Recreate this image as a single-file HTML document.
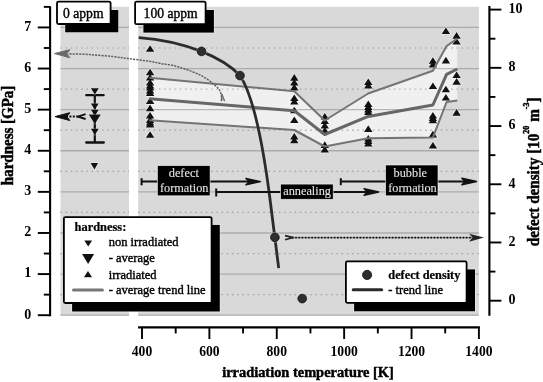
<!DOCTYPE html><html><head><meta charset="utf-8"><style>html,body{margin:0;padding:0;background:#fff;}svg{display:block;}text{font-family:"Liberation Serif",serif;} .r{stroke:#000;stroke-width:0.38px;} .b{stroke:#000;stroke-width:0.22px;} .t{stroke:#000;stroke-width:0.45px;} .w{fill:#e2e2e2;stroke:#e2e2e2;stroke-width:0.12px;}</style></head><body>
<svg width="543" height="382" viewBox="0 0 543 382">
<rect x="0" y="0" width="543" height="382" fill="#fff"/>
<rect x="60.5" y="6.8" width="68.5" height="308.59999999999997" fill="#d9d9d9"/>
<rect x="138.2" y="6.8" width="340.7" height="308.59999999999997" fill="#d9d9d9"/>
<line x1="60.5" y1="315.20" x2="129" y2="315.20" stroke="#ababab" stroke-width="1.3"/>
<line x1="60.5" y1="274.09" x2="129" y2="274.09" stroke="#ababab" stroke-width="1.3"/>
<line x1="60.5" y1="232.98" x2="129" y2="232.98" stroke="#ababab" stroke-width="1.3"/>
<line x1="60.5" y1="191.87" x2="129" y2="191.87" stroke="#ababab" stroke-width="1.3"/>
<line x1="60.5" y1="150.76" x2="129" y2="150.76" stroke="#ababab" stroke-width="1.3"/>
<line x1="60.5" y1="109.65" x2="129" y2="109.65" stroke="#ababab" stroke-width="1.3"/>
<line x1="60.5" y1="68.54" x2="129" y2="68.54" stroke="#ababab" stroke-width="1.3"/>
<line x1="60.5" y1="27.43" x2="129" y2="27.43" stroke="#ababab" stroke-width="1.3"/>
<line x1="60.3" y1="294.64" x2="129" y2="294.64" stroke="#a2a2a2" stroke-width="1.2" stroke-dasharray="1.5 3.72"/>
<line x1="60.3" y1="253.53" x2="129" y2="253.53" stroke="#a2a2a2" stroke-width="1.2" stroke-dasharray="1.5 3.72"/>
<line x1="60.3" y1="212.42" x2="129" y2="212.42" stroke="#a2a2a2" stroke-width="1.2" stroke-dasharray="1.5 3.72"/>
<line x1="60.3" y1="171.31" x2="129" y2="171.31" stroke="#a2a2a2" stroke-width="1.2" stroke-dasharray="1.5 3.72"/>
<line x1="60.3" y1="130.20" x2="129" y2="130.20" stroke="#a2a2a2" stroke-width="1.2" stroke-dasharray="1.5 3.72"/>
<line x1="60.3" y1="89.09" x2="129" y2="89.09" stroke="#a2a2a2" stroke-width="1.2" stroke-dasharray="1.5 3.72"/>
<line x1="60.3" y1="47.99" x2="129" y2="47.99" stroke="#a2a2a2" stroke-width="1.2" stroke-dasharray="1.5 3.72"/>
<line x1="138.2" y1="315.20" x2="478.9" y2="315.20" stroke="#ababab" stroke-width="1.3"/>
<line x1="138.2" y1="274.09" x2="478.9" y2="274.09" stroke="#ababab" stroke-width="1.3"/>
<line x1="138.2" y1="232.98" x2="478.9" y2="232.98" stroke="#ababab" stroke-width="1.3"/>
<line x1="138.2" y1="191.87" x2="478.9" y2="191.87" stroke="#ababab" stroke-width="1.3"/>
<line x1="138.2" y1="150.76" x2="478.9" y2="150.76" stroke="#ababab" stroke-width="1.3"/>
<line x1="138.2" y1="109.65" x2="478.9" y2="109.65" stroke="#ababab" stroke-width="1.3"/>
<line x1="138.2" y1="68.54" x2="478.9" y2="68.54" stroke="#ababab" stroke-width="1.3"/>
<line x1="138.2" y1="27.43" x2="478.9" y2="27.43" stroke="#ababab" stroke-width="1.3"/>
<line x1="138.0" y1="294.64" x2="478.9" y2="294.64" stroke="#a2a2a2" stroke-width="1.2" stroke-dasharray="1.5 3.72"/>
<line x1="138.0" y1="253.53" x2="478.9" y2="253.53" stroke="#a2a2a2" stroke-width="1.2" stroke-dasharray="1.5 3.72"/>
<line x1="138.0" y1="212.42" x2="478.9" y2="212.42" stroke="#a2a2a2" stroke-width="1.2" stroke-dasharray="1.5 3.72"/>
<line x1="138.0" y1="171.31" x2="478.9" y2="171.31" stroke="#a2a2a2" stroke-width="1.2" stroke-dasharray="1.5 3.72"/>
<line x1="138.0" y1="130.20" x2="478.9" y2="130.20" stroke="#a2a2a2" stroke-width="1.2" stroke-dasharray="1.5 3.72"/>
<line x1="138.0" y1="89.09" x2="478.9" y2="89.09" stroke="#a2a2a2" stroke-width="1.2" stroke-dasharray="1.5 3.72"/>
<line x1="138.0" y1="47.99" x2="478.9" y2="47.99" stroke="#a2a2a2" stroke-width="1.2" stroke-dasharray="1.5 3.72"/>
<polygon points="149.4,77.7 294.3,91.3 324.7,120.5 368.2,93.5 432.9,70.8 446.6,46.0 457.3,38.7 457.3,100.6 446.6,102.0 432.9,137.4 368.2,138.2 324.7,146.5 294.3,130.0 149.4,120.2" fill="#f0f0f0"/>
<clipPath id="bandclip"><polygon points="149.4,77.7 294.3,91.3 324.7,120.5 368.2,93.5 432.9,70.8 446.6,46.0 457.3,38.7 457.3,100.6 446.6,102.0 432.9,137.4 368.2,138.2 324.7,146.5 294.3,130.0 149.4,120.2"/></clipPath>
<g clip-path="url(#bandclip)">
<line x1="138.2" y1="315.20" x2="478.9" y2="315.20" stroke="#b6b6b6" stroke-width="1.3"/>
<line x1="138.2" y1="274.09" x2="478.9" y2="274.09" stroke="#b6b6b6" stroke-width="1.3"/>
<line x1="138.2" y1="232.98" x2="478.9" y2="232.98" stroke="#b6b6b6" stroke-width="1.3"/>
<line x1="138.2" y1="191.87" x2="478.9" y2="191.87" stroke="#b6b6b6" stroke-width="1.3"/>
<line x1="138.2" y1="150.76" x2="478.9" y2="150.76" stroke="#b6b6b6" stroke-width="1.3"/>
<line x1="138.2" y1="109.65" x2="478.9" y2="109.65" stroke="#b6b6b6" stroke-width="1.3"/>
<line x1="138.2" y1="68.54" x2="478.9" y2="68.54" stroke="#b6b6b6" stroke-width="1.3"/>
<line x1="138.2" y1="27.43" x2="478.9" y2="27.43" stroke="#b6b6b6" stroke-width="1.3"/>
<line x1="138.0" y1="294.64" x2="478.9" y2="294.64" stroke="#b4b4b4" stroke-width="1.4" stroke-dasharray="1.6 3.62"/>
<line x1="138.0" y1="253.53" x2="478.9" y2="253.53" stroke="#b4b4b4" stroke-width="1.4" stroke-dasharray="1.6 3.62"/>
<line x1="138.0" y1="212.42" x2="478.9" y2="212.42" stroke="#b4b4b4" stroke-width="1.4" stroke-dasharray="1.6 3.62"/>
<line x1="138.0" y1="171.31" x2="478.9" y2="171.31" stroke="#b4b4b4" stroke-width="1.4" stroke-dasharray="1.6 3.62"/>
<line x1="138.0" y1="130.20" x2="478.9" y2="130.20" stroke="#b4b4b4" stroke-width="1.4" stroke-dasharray="1.6 3.62"/>
<line x1="138.0" y1="89.09" x2="478.9" y2="89.09" stroke="#b4b4b4" stroke-width="1.4" stroke-dasharray="1.6 3.62"/>
<line x1="138.0" y1="47.99" x2="478.9" y2="47.99" stroke="#b4b4b4" stroke-width="1.4" stroke-dasharray="1.6 3.62"/>
</g>
<polygon points="150.1,45.2 145.9,51.800000000000004 154.29999999999998,51.800000000000004" fill="none" stroke="#fff" stroke-width="1.6" stroke-opacity="0.45" stroke-linejoin="round"/>
<polygon points="150.1,68.7 145.9,75.3 154.29999999999998,75.3" fill="none" stroke="#fff" stroke-width="1.6" stroke-opacity="0.45" stroke-linejoin="round"/>
<polygon points="150.1,74.0 145.9,80.6 154.29999999999998,80.6" fill="none" stroke="#fff" stroke-width="1.6" stroke-opacity="0.45" stroke-linejoin="round"/>
<polygon points="150.1,79.0 145.9,85.6 154.29999999999998,85.6" fill="none" stroke="#fff" stroke-width="1.6" stroke-opacity="0.45" stroke-linejoin="round"/>
<polygon points="150.1,82.0 145.9,88.6 154.29999999999998,88.6" fill="none" stroke="#fff" stroke-width="1.6" stroke-opacity="0.45" stroke-linejoin="round"/>
<polygon points="150.1,84.0 145.9,90.6 154.29999999999998,90.6" fill="none" stroke="#fff" stroke-width="1.6" stroke-opacity="0.45" stroke-linejoin="round"/>
<polygon points="150.1,87.0 145.9,93.6 154.29999999999998,93.6" fill="none" stroke="#fff" stroke-width="1.6" stroke-opacity="0.45" stroke-linejoin="round"/>
<polygon points="150.1,89.3 145.9,95.89999999999999 154.29999999999998,95.89999999999999" fill="none" stroke="#fff" stroke-width="1.6" stroke-opacity="0.45" stroke-linejoin="round"/>
<polygon points="150.1,97.3 145.9,103.89999999999999 154.29999999999998,103.89999999999999" fill="none" stroke="#fff" stroke-width="1.6" stroke-opacity="0.45" stroke-linejoin="round"/>
<polygon points="150.1,104.6 145.9,111.19999999999999 154.29999999999998,111.19999999999999" fill="none" stroke="#fff" stroke-width="1.6" stroke-opacity="0.45" stroke-linejoin="round"/>
<polygon points="150.1,112.0 145.9,118.6 154.29999999999998,118.6" fill="none" stroke="#fff" stroke-width="1.6" stroke-opacity="0.45" stroke-linejoin="round"/>
<polygon points="150.1,116.3 145.9,122.89999999999999 154.29999999999998,122.89999999999999" fill="none" stroke="#fff" stroke-width="1.6" stroke-opacity="0.45" stroke-linejoin="round"/>
<polygon points="150.1,119.0 145.9,125.6 154.29999999999998,125.6" fill="none" stroke="#fff" stroke-width="1.6" stroke-opacity="0.45" stroke-linejoin="round"/>
<polygon points="150.1,120.8 145.9,127.39999999999999 154.29999999999998,127.39999999999999" fill="none" stroke="#fff" stroke-width="1.6" stroke-opacity="0.45" stroke-linejoin="round"/>
<polygon points="150.1,131.2 145.9,137.79999999999998 154.29999999999998,137.79999999999998" fill="none" stroke="#fff" stroke-width="1.6" stroke-opacity="0.45" stroke-linejoin="round"/>
<polygon points="294.3,74.1 290.1,80.69999999999999 298.5,80.69999999999999" fill="none" stroke="#fff" stroke-width="1.6" stroke-opacity="0.45" stroke-linejoin="round"/>
<polygon points="294.3,79.0 290.1,85.6 298.5,85.6" fill="none" stroke="#fff" stroke-width="1.6" stroke-opacity="0.45" stroke-linejoin="round"/>
<polygon points="294.3,83.8 290.1,90.39999999999999 298.5,90.39999999999999" fill="none" stroke="#fff" stroke-width="1.6" stroke-opacity="0.45" stroke-linejoin="round"/>
<polygon points="294.3,94.5 290.1,101.1 298.5,101.1" fill="none" stroke="#fff" stroke-width="1.6" stroke-opacity="0.45" stroke-linejoin="round"/>
<polygon points="294.3,98.0 290.1,104.6 298.5,104.6" fill="none" stroke="#fff" stroke-width="1.6" stroke-opacity="0.45" stroke-linejoin="round"/>
<polygon points="294.3,106.7 290.1,113.3 298.5,113.3" fill="none" stroke="#fff" stroke-width="1.6" stroke-opacity="0.45" stroke-linejoin="round"/>
<polygon points="294.3,116.5 290.1,123.1 298.5,123.1" fill="none" stroke="#fff" stroke-width="1.6" stroke-opacity="0.45" stroke-linejoin="round"/>
<polygon points="294.3,133.0 290.1,139.6 298.5,139.6" fill="none" stroke="#fff" stroke-width="1.6" stroke-opacity="0.45" stroke-linejoin="round"/>
<polygon points="294.3,136.7 290.1,143.29999999999998 298.5,143.29999999999998" fill="none" stroke="#fff" stroke-width="1.6" stroke-opacity="0.45" stroke-linejoin="round"/>
<polygon points="324.8,113.0 320.6,119.6 329.0,119.6" fill="none" stroke="#fff" stroke-width="1.6" stroke-opacity="0.45" stroke-linejoin="round"/>
<polygon points="324.8,117.5 320.6,124.1 329.0,124.1" fill="none" stroke="#fff" stroke-width="1.6" stroke-opacity="0.45" stroke-linejoin="round"/>
<polygon points="324.8,122.0 320.6,128.6 329.0,128.6" fill="none" stroke="#fff" stroke-width="1.6" stroke-opacity="0.45" stroke-linejoin="round"/>
<polygon points="324.8,127.0 320.6,133.6 329.0,133.6" fill="none" stroke="#fff" stroke-width="1.6" stroke-opacity="0.45" stroke-linejoin="round"/>
<polygon points="324.8,141.3 320.6,147.9 329.0,147.9" fill="none" stroke="#fff" stroke-width="1.6" stroke-opacity="0.45" stroke-linejoin="round"/>
<polygon points="324.8,146.0 320.6,152.6 329.0,152.6" fill="none" stroke="#fff" stroke-width="1.6" stroke-opacity="0.45" stroke-linejoin="round"/>
<polygon points="368.3,78.4 364.1,85.0 372.5,85.0" fill="none" stroke="#fff" stroke-width="1.6" stroke-opacity="0.45" stroke-linejoin="round"/>
<polygon points="368.3,82.0 364.1,88.6 372.5,88.6" fill="none" stroke="#fff" stroke-width="1.6" stroke-opacity="0.45" stroke-linejoin="round"/>
<polygon points="368.3,100.5 364.1,107.1 372.5,107.1" fill="none" stroke="#fff" stroke-width="1.6" stroke-opacity="0.45" stroke-linejoin="round"/>
<polygon points="368.3,103.3 364.1,109.89999999999999 372.5,109.89999999999999" fill="none" stroke="#fff" stroke-width="1.6" stroke-opacity="0.45" stroke-linejoin="round"/>
<polygon points="368.3,106.0 364.1,112.6 372.5,112.6" fill="none" stroke="#fff" stroke-width="1.6" stroke-opacity="0.45" stroke-linejoin="round"/>
<polygon points="368.3,108.3 364.1,114.89999999999999 372.5,114.89999999999999" fill="none" stroke="#fff" stroke-width="1.6" stroke-opacity="0.45" stroke-linejoin="round"/>
<polygon points="368.3,125.3 364.1,131.9 372.5,131.9" fill="none" stroke="#fff" stroke-width="1.6" stroke-opacity="0.45" stroke-linejoin="round"/>
<polygon points="368.3,134.9 364.1,141.5 372.5,141.5" fill="none" stroke="#fff" stroke-width="1.6" stroke-opacity="0.45" stroke-linejoin="round"/>
<polygon points="368.3,137.5 364.1,144.1 372.5,144.1" fill="none" stroke="#fff" stroke-width="1.6" stroke-opacity="0.45" stroke-linejoin="round"/>
<polygon points="368.3,139.8 364.1,146.4 372.5,146.4" fill="none" stroke="#fff" stroke-width="1.6" stroke-opacity="0.45" stroke-linejoin="round"/>
<polygon points="432.9,57.2 428.7,63.800000000000004 437.09999999999997,63.800000000000004" fill="none" stroke="#fff" stroke-width="1.6" stroke-opacity="0.45" stroke-linejoin="round"/>
<polygon points="432.9,61.0 428.7,67.6 437.09999999999997,67.6" fill="none" stroke="#fff" stroke-width="1.6" stroke-opacity="0.45" stroke-linejoin="round"/>
<polygon points="432.9,82.5 428.7,89.1 437.09999999999997,89.1" fill="none" stroke="#fff" stroke-width="1.6" stroke-opacity="0.45" stroke-linejoin="round"/>
<polygon points="432.9,111.9 428.7,118.5 437.09999999999997,118.5" fill="none" stroke="#fff" stroke-width="1.6" stroke-opacity="0.45" stroke-linejoin="round"/>
<polygon points="432.9,114.5 428.7,121.1 437.09999999999997,121.1" fill="none" stroke="#fff" stroke-width="1.6" stroke-opacity="0.45" stroke-linejoin="round"/>
<polygon points="432.9,116.7 428.7,123.3 437.09999999999997,123.3" fill="none" stroke="#fff" stroke-width="1.6" stroke-opacity="0.45" stroke-linejoin="round"/>
<polygon points="432.9,130.8 428.7,137.4 437.09999999999997,137.4" fill="none" stroke="#fff" stroke-width="1.6" stroke-opacity="0.45" stroke-linejoin="round"/>
<polygon points="432.9,142.0 428.7,148.6 437.09999999999997,148.6" fill="none" stroke="#fff" stroke-width="1.6" stroke-opacity="0.45" stroke-linejoin="round"/>
<polygon points="445.9,27.4 441.7,34.0 450.09999999999997,34.0" fill="none" stroke="#fff" stroke-width="1.6" stroke-opacity="0.45" stroke-linejoin="round"/>
<polygon points="445.9,56.8 441.7,63.4 450.09999999999997,63.4" fill="none" stroke="#fff" stroke-width="1.6" stroke-opacity="0.45" stroke-linejoin="round"/>
<polygon points="445.9,85.7 441.7,92.3 450.09999999999997,92.3" fill="none" stroke="#fff" stroke-width="1.6" stroke-opacity="0.45" stroke-linejoin="round"/>
<polygon points="445.9,94.0 441.7,100.6 450.09999999999997,100.6" fill="none" stroke="#fff" stroke-width="1.6" stroke-opacity="0.45" stroke-linejoin="round"/>
<polygon points="456.6,32.1 452.40000000000003,38.7 460.8,38.7" fill="none" stroke="#fff" stroke-width="1.6" stroke-opacity="0.45" stroke-linejoin="round"/>
<polygon points="456.6,38.0 452.40000000000003,44.6 460.8,44.6" fill="none" stroke="#fff" stroke-width="1.6" stroke-opacity="0.45" stroke-linejoin="round"/>
<polygon points="456.6,71.4 452.40000000000003,78.0 460.8,78.0" fill="none" stroke="#fff" stroke-width="1.6" stroke-opacity="0.45" stroke-linejoin="round"/>
<polygon points="456.6,78.1 452.40000000000003,84.69999999999999 460.8,84.69999999999999" fill="none" stroke="#fff" stroke-width="1.6" stroke-opacity="0.45" stroke-linejoin="round"/>
<polygon points="456.6,109.1 452.40000000000003,115.69999999999999 460.8,115.69999999999999" fill="none" stroke="#fff" stroke-width="1.6" stroke-opacity="0.45" stroke-linejoin="round"/>
<polygon points="150.1,45.2 145.9,51.800000000000004 154.29999999999998,51.800000000000004" fill="#111"/>
<polygon points="150.1,68.7 145.9,75.3 154.29999999999998,75.3" fill="#111"/>
<polygon points="150.1,74.0 145.9,80.6 154.29999999999998,80.6" fill="#111"/>
<polygon points="150.1,79.0 145.9,85.6 154.29999999999998,85.6" fill="#111"/>
<polygon points="150.1,82.0 145.9,88.6 154.29999999999998,88.6" fill="#111"/>
<polygon points="150.1,84.0 145.9,90.6 154.29999999999998,90.6" fill="#111"/>
<polygon points="150.1,87.0 145.9,93.6 154.29999999999998,93.6" fill="#111"/>
<polygon points="150.1,89.3 145.9,95.89999999999999 154.29999999999998,95.89999999999999" fill="#111"/>
<polygon points="150.1,97.3 145.9,103.89999999999999 154.29999999999998,103.89999999999999" fill="#111"/>
<polygon points="150.1,104.6 145.9,111.19999999999999 154.29999999999998,111.19999999999999" fill="#111"/>
<polygon points="150.1,112.0 145.9,118.6 154.29999999999998,118.6" fill="#111"/>
<polygon points="150.1,116.3 145.9,122.89999999999999 154.29999999999998,122.89999999999999" fill="#111"/>
<polygon points="150.1,119.0 145.9,125.6 154.29999999999998,125.6" fill="#111"/>
<polygon points="150.1,120.8 145.9,127.39999999999999 154.29999999999998,127.39999999999999" fill="#111"/>
<polygon points="150.1,131.2 145.9,137.79999999999998 154.29999999999998,137.79999999999998" fill="#111"/>
<polygon points="294.3,74.1 290.1,80.69999999999999 298.5,80.69999999999999" fill="#111"/>
<polygon points="294.3,79.0 290.1,85.6 298.5,85.6" fill="#111"/>
<polygon points="294.3,83.8 290.1,90.39999999999999 298.5,90.39999999999999" fill="#111"/>
<polygon points="294.3,94.5 290.1,101.1 298.5,101.1" fill="#111"/>
<polygon points="294.3,98.0 290.1,104.6 298.5,104.6" fill="#111"/>
<polygon points="294.3,106.7 290.1,113.3 298.5,113.3" fill="#111"/>
<polygon points="294.3,116.5 290.1,123.1 298.5,123.1" fill="#111"/>
<polygon points="294.3,133.0 290.1,139.6 298.5,139.6" fill="#111"/>
<polygon points="294.3,136.7 290.1,143.29999999999998 298.5,143.29999999999998" fill="#111"/>
<polygon points="324.8,113.0 320.6,119.6 329.0,119.6" fill="#111"/>
<polygon points="324.8,117.5 320.6,124.1 329.0,124.1" fill="#111"/>
<polygon points="324.8,122.0 320.6,128.6 329.0,128.6" fill="#111"/>
<polygon points="324.8,127.0 320.6,133.6 329.0,133.6" fill="#111"/>
<polygon points="324.8,141.3 320.6,147.9 329.0,147.9" fill="#111"/>
<polygon points="324.8,146.0 320.6,152.6 329.0,152.6" fill="#111"/>
<polygon points="368.3,78.4 364.1,85.0 372.5,85.0" fill="#111"/>
<polygon points="368.3,82.0 364.1,88.6 372.5,88.6" fill="#111"/>
<polygon points="368.3,100.5 364.1,107.1 372.5,107.1" fill="#111"/>
<polygon points="368.3,103.3 364.1,109.89999999999999 372.5,109.89999999999999" fill="#111"/>
<polygon points="368.3,106.0 364.1,112.6 372.5,112.6" fill="#111"/>
<polygon points="368.3,108.3 364.1,114.89999999999999 372.5,114.89999999999999" fill="#111"/>
<polygon points="368.3,125.3 364.1,131.9 372.5,131.9" fill="#111"/>
<polygon points="368.3,134.9 364.1,141.5 372.5,141.5" fill="#111"/>
<polygon points="368.3,137.5 364.1,144.1 372.5,144.1" fill="#111"/>
<polygon points="368.3,139.8 364.1,146.4 372.5,146.4" fill="#111"/>
<polygon points="432.9,57.2 428.7,63.800000000000004 437.09999999999997,63.800000000000004" fill="#111"/>
<polygon points="432.9,61.0 428.7,67.6 437.09999999999997,67.6" fill="#111"/>
<polygon points="432.9,82.5 428.7,89.1 437.09999999999997,89.1" fill="#111"/>
<polygon points="432.9,111.9 428.7,118.5 437.09999999999997,118.5" fill="#111"/>
<polygon points="432.9,114.5 428.7,121.1 437.09999999999997,121.1" fill="#111"/>
<polygon points="432.9,116.7 428.7,123.3 437.09999999999997,123.3" fill="#111"/>
<polygon points="432.9,130.8 428.7,137.4 437.09999999999997,137.4" fill="#111"/>
<polygon points="432.9,142.0 428.7,148.6 437.09999999999997,148.6" fill="#111"/>
<polygon points="445.9,27.4 441.7,34.0 450.09999999999997,34.0" fill="#111"/>
<polygon points="445.9,56.8 441.7,63.4 450.09999999999997,63.4" fill="#111"/>
<polygon points="445.9,85.7 441.7,92.3 450.09999999999997,92.3" fill="#111"/>
<polygon points="445.9,94.0 441.7,100.6 450.09999999999997,100.6" fill="#111"/>
<polygon points="456.6,32.1 452.40000000000003,38.7 460.8,38.7" fill="#111"/>
<polygon points="456.6,38.0 452.40000000000003,44.6 460.8,44.6" fill="#111"/>
<polygon points="456.6,71.4 452.40000000000003,78.0 460.8,78.0" fill="#111"/>
<polygon points="456.6,78.1 452.40000000000003,84.69999999999999 460.8,84.69999999999999" fill="#111"/>
<polygon points="456.6,109.1 452.40000000000003,115.69999999999999 460.8,115.69999999999999" fill="#111"/>
<polyline points="149.4,77.7 294.3,91.3 324.7,120.5 368.2,93.5 432.9,70.8 446.6,46.0 457.3,38.7" fill="none" stroke="#747474" stroke-width="2" stroke-linejoin="round"/>
<polyline points="149.4,120.2 294.3,130.0 324.7,146.5 368.2,138.2 432.9,137.4 446.6,102.0 457.3,100.6" fill="none" stroke="#747474" stroke-width="2" stroke-linejoin="round"/>
<polyline points="149.4,98.75 294.3,110.8 324.7,134.5 368.2,116.4 432.9,105.0 446.6,74.4 457.3,69.0" fill="none" stroke="#666" stroke-width="3" stroke-linejoin="round"/>
<line x1="94.8" y1="95.2" x2="94.8" y2="142.4" stroke="#111" stroke-width="2.2"/>
<line x1="86.3" y1="95.2" x2="103.6" y2="95.2" stroke="#111" stroke-width="2.3" stroke-linecap="round"/>
<line x1="86.2" y1="142.5" x2="103.8" y2="142.5" stroke="#111" stroke-width="2.3" stroke-linecap="round"/>
<polygon points="90.89999999999999,88.3 98.7,88.3 94.8,94.6" fill="#111" stroke="#fff" stroke-width="1.3" stroke-opacity="0.35" paint-order="stroke" stroke-linejoin="round"/>
<polygon points="90.89999999999999,103.4 98.7,103.4 94.8,109.7" fill="#111" stroke="#fff" stroke-width="1.3" stroke-opacity="0.35" paint-order="stroke" stroke-linejoin="round"/>
<polygon points="90.89999999999999,109.8 98.7,109.8 94.8,116.1" fill="#111" stroke="#fff" stroke-width="1.3" stroke-opacity="0.35" paint-order="stroke" stroke-linejoin="round"/>
<polygon points="90.89999999999999,128.8 98.7,128.8 94.8,135.10000000000002" fill="#111" stroke="#fff" stroke-width="1.3" stroke-opacity="0.35" paint-order="stroke" stroke-linejoin="round"/>
<polygon points="88.8,114.6 100.8,114.6 94.8,124.0" fill="#111" stroke="#fff" stroke-width="1.3" stroke-opacity="0.35" paint-order="stroke" stroke-linejoin="round"/>
<polygon points="90.7,162.9 98.10000000000001,162.9 94.4,169.6" fill="#111" stroke="#fff" stroke-width="1.3" stroke-opacity="0.35" paint-order="stroke" stroke-linejoin="round"/>
<line x1="66" y1="116.6" x2="79" y2="116.6" stroke="#111" stroke-width="2" stroke-dasharray="2 1.4"/>
<path d="M55.0,116.6 L69.8,112.7 L66.9,116.6 L69.8,120.5 Z" fill="#111" stroke="#111" stroke-width="1" stroke-linejoin="round"/>
<path d="M85.6,114.2 L77.8,116.6 L85.6,119.0" stroke="#111" stroke-width="1.9" fill="none" stroke-linejoin="round"/>
<path d="M222.0,100.5 C221.8,99.2 221.5,95.0 220.8,92.9 C220.1,90.8 219.0,89.3 217.6,87.7 C216.2,86.1 214.1,84.5 212.3,83.1 C210.6,81.7 209.3,80.6 207.1,79.2 C204.9,77.8 202.8,76.2 199.3,74.6 C195.8,73.0 190.6,70.9 186.2,69.4 C181.8,67.9 177.3,66.5 173.1,65.5 C168.8,64.5 164.5,64.2 160.7,63.5 C156.9,62.8 155.4,62.2 150.3,61.4 C145.2,60.6 136.2,59.6 130,58.8 C123.8,58.0 119.7,57.3 113,56.6 C106.3,55.9 97.5,55.1 90,54.6 C82.5,54.1 71.7,53.9 68,53.8" fill="none" stroke="#5e5e5e" stroke-width="1.5" stroke-dasharray="2.1 1.1"/>
<path d="M54.5,53.6 L69.8,49.7 L66.8,53.7 L69.8,57.7 Z" fill="#6a6a6a" stroke="#6a6a6a" stroke-width="1" stroke-linejoin="round"/>
<path d="M221.9,94.0 L224.6,101.2 M221.9,94.0 L221.2,101.4" stroke="#6a6a6a" stroke-width="1.3" fill="none"/>
<path d="M138.7,37.6 C165,39.5 185,45 201.3,51.4 C218,58 232,67 240,75.6 C253,95.5 262.5,140 270.1,200 L278.7,268.1" fill="none" stroke="#2b2b2b" stroke-width="2.8"/>
<circle cx="201.5" cy="51.4" r="5.2" fill="#fff" fill-opacity="0.6"/>
<circle cx="201.5" cy="51.4" r="4.4" fill="#2e2e2e" stroke="#111" stroke-width="0.8"/>
<circle cx="240.0" cy="75.6" r="5.2" fill="#fff" fill-opacity="0.6"/>
<circle cx="240.0" cy="75.6" r="4.4" fill="#2e2e2e" stroke="#111" stroke-width="0.8"/>
<circle cx="274.9" cy="237.3" r="5.2" fill="#fff" fill-opacity="0.6"/>
<circle cx="274.9" cy="237.3" r="4.4" fill="#2e2e2e" stroke="#111" stroke-width="0.8"/>
<circle cx="302.2" cy="298.6" r="5.2" fill="#fff" fill-opacity="0.6"/>
<circle cx="302.2" cy="298.6" r="4.4" fill="#2e2e2e" stroke="#111" stroke-width="0.8"/>
<line x1="292" y1="237.7" x2="472" y2="237.7" stroke="#444" stroke-width="0.7"/>
<line x1="292" y1="237.7" x2="472" y2="237.7" stroke="#111" stroke-width="1.8" stroke-dasharray="1.6 1.62"/>
<path d="M484,237.5 L469,233.7 L472.5,237.5 L469,241.8 Z" fill="#222"/>
<path d="M285,235.6 L293.3,237.6 L285,239.8" stroke="#222" stroke-width="1.6" fill="none"/>
<line x1="141.6" y1="181.6" x2="255" y2="181.6" stroke="#111" stroke-width="2"/>
<line x1="141.6" y1="178.2" x2="141.6" y2="185.3" stroke="#111" stroke-width="2"/>
<path d="M260.59999999999997,181.6 L245.79999999999998,178.29999999999998 L249.2,181.6 L245.79999999999998,184.9 Z" fill="#111" stroke="#111" stroke-width="1.3" stroke-linejoin="round"/>
<line x1="216.2" y1="192.0" x2="372" y2="192.0" stroke="#111" stroke-width="2"/>
<line x1="216.2" y1="188.5" x2="216.2" y2="196.5" stroke="#111" stroke-width="2"/>
<path d="M378.79999999999995,192.0 L364.0,188.7 L367.4,192.0 L364.0,195.3 Z" fill="#111" stroke="#111" stroke-width="1.3" stroke-linejoin="round"/>
<line x1="340.8" y1="181.5" x2="470" y2="181.5" stroke="#111" stroke-width="2"/>
<line x1="340.8" y1="178.2" x2="340.8" y2="185.2" stroke="#111" stroke-width="2"/>
<path d="M476.59999999999997,181.5 L461.8,178.2 L465.2,181.5 L461.8,184.8 Z" fill="#111" stroke="#111" stroke-width="1.3" stroke-linejoin="round"/>
<rect x="157.4" y="165.6" width="52.69999999999999" height="30.200000000000017" fill="#000" stroke="#fff" stroke-width="0.8" stroke-opacity="0.7"/>
<text x="183.8" y="176.9" font-size="12.3" class="w" text-anchor="middle">defect</text>
<text x="184.2" y="192.1" font-size="12.3" class="w" text-anchor="middle">formation</text>
<rect x="280.6" y="184.1" width="52.599999999999966" height="15.200000000000017" fill="#000" stroke="#fff" stroke-width="0.8" stroke-opacity="0.7"/>
<text x="307.1" y="194.9" font-size="12.3" class="w" text-anchor="middle">annealing</text>
<rect x="385.6" y="165.0" width="52.39999999999998" height="30.80000000000001" fill="#000" stroke="#fff" stroke-width="0.8" stroke-opacity="0.7"/>
<text x="410.3" y="176.8" font-size="12.3" class="w" text-anchor="middle">bubble</text>
<text x="412.5" y="191.8" font-size="12.3" class="w" text-anchor="middle">formation</text>
<rect x="72.1" y="224.9" width="147.70" height="86.60" fill="#000" stroke="#fff" stroke-opacity="0.45" stroke-width="1.4" paint-order="stroke"/>
<rect x="63.9" y="217.05" width="147.70" height="85.95" fill="#fff" stroke="#000" stroke-width="1.8" rx="1.5"/>
<text x="74.5" y="230.9" font-size="12.45" font-weight="bold" class="b">hardness:</text>
<polygon points="84.3,240.4 92.10000000000001,240.4 88.2,246.6" fill="#111" stroke="#fff" stroke-width="1.3" stroke-opacity="0.35" paint-order="stroke" stroke-linejoin="round"/>
<polygon points="82.1,254.1 94.1,254.1 88.1,264.1" fill="#111" stroke="#fff" stroke-width="1.3" stroke-opacity="0.35" paint-order="stroke" stroke-linejoin="round"/>
<polygon points="88.0,271.0 83.9,277.2 92.1,277.2" fill="#111" stroke="#fff" stroke-width="1.3" stroke-opacity="0.35" paint-order="stroke" stroke-linejoin="round"/>
<line x1="73.5" y1="289.9" x2="102.4" y2="289.9" stroke="#777" stroke-width="3" stroke-linecap="round"/>
<text x="108.7" y="246.3" font-size="12.5" class="r">non irradiated</text>
<text x="108.7" y="261.8" font-size="12.5" class="r">- average</text>
<text x="108.7" y="278.5" font-size="12.5" class="r">irradiated</text>
<text x="108.7" y="293.9" font-size="12.5" class="r">- average trend line</text>
<rect x="354.1" y="269.4" width="120.90" height="41.90" fill="#000" stroke="#fff" stroke-opacity="0.45" stroke-width="1.4" paint-order="stroke"/>
<rect x="345.9" y="261.4" width="120.70" height="41.40" fill="#fff" stroke="#000" stroke-width="1.8" rx="1.5"/>
<circle cx="367.1" cy="274.9" r="4.6" fill="#2e2e2e" stroke="#111" stroke-width="0.8"/>
<line x1="353.2" y1="289.8" x2="381.7" y2="289.8" stroke="#2b2b2b" stroke-width="3" stroke-linecap="round"/>
<text x="388.3" y="278.9" font-size="12.3" font-weight="bold" class="b">defect density</text>
<text x="388.3" y="293.8" font-size="12.5" class="r">- trend line</text>
<rect x="65.2" y="10.0" width="53.10" height="22.30" fill="#000" stroke="#fff" stroke-opacity="0.45" stroke-width="1.4" paint-order="stroke"/>
<rect x="57.0" y="1.6" width="53.60" height="22.40" fill="#fff" stroke="#000" stroke-width="1.8" rx="1.5"/>
<text x="63.1" y="17.7" font-size="13.6" class="r">0 appm</text>
<rect x="143.4" y="10.0" width="70.50" height="22.60" fill="#000" stroke="#fff" stroke-opacity="0.45" stroke-width="1.4" paint-order="stroke"/>
<rect x="135.1" y="1.6" width="70.50" height="22.60" fill="#fff" stroke="#000" stroke-width="1.8" rx="1.5"/>
<text x="143.6" y="17.7" font-size="13.6" class="r">100 appm</text>
<line x1="50.1" y1="6.3" x2="50.1" y2="316.2" stroke="#000" stroke-width="2.1"/>
<line x1="37.8" y1="315.20" x2="50.1" y2="315.20" stroke="#000" stroke-width="1.9"/>
<text x="31.2" y="318.60" font-size="14" font-weight="bold" text-anchor="end">0</text>
<line x1="37.8" y1="274.09" x2="50.1" y2="274.09" stroke="#000" stroke-width="1.9"/>
<text x="31.2" y="277.49" font-size="14" font-weight="bold" text-anchor="end">1</text>
<line x1="37.8" y1="232.98" x2="50.1" y2="232.98" stroke="#000" stroke-width="1.9"/>
<text x="31.2" y="236.38" font-size="14" font-weight="bold" text-anchor="end">2</text>
<line x1="37.8" y1="191.87" x2="50.1" y2="191.87" stroke="#000" stroke-width="1.9"/>
<text x="31.2" y="195.27" font-size="14" font-weight="bold" text-anchor="end">3</text>
<line x1="37.8" y1="150.76" x2="50.1" y2="150.76" stroke="#000" stroke-width="1.9"/>
<text x="31.2" y="154.16" font-size="14" font-weight="bold" text-anchor="end">4</text>
<line x1="37.8" y1="109.65" x2="50.1" y2="109.65" stroke="#000" stroke-width="1.9"/>
<text x="31.2" y="113.05" font-size="14" font-weight="bold" text-anchor="end">5</text>
<line x1="37.8" y1="68.54" x2="50.1" y2="68.54" stroke="#000" stroke-width="1.9"/>
<text x="31.2" y="71.94" font-size="14" font-weight="bold" text-anchor="end">6</text>
<line x1="37.8" y1="27.43" x2="50.1" y2="27.43" stroke="#000" stroke-width="1.9"/>
<text x="31.2" y="30.83" font-size="14" font-weight="bold" text-anchor="end">7</text>
<line x1="43.8" y1="294.64" x2="50.1" y2="294.64" stroke="#000" stroke-width="1.9"/>
<line x1="43.8" y1="253.53" x2="50.1" y2="253.53" stroke="#000" stroke-width="1.9"/>
<line x1="43.8" y1="212.42" x2="50.1" y2="212.42" stroke="#000" stroke-width="1.9"/>
<line x1="43.8" y1="171.31" x2="50.1" y2="171.31" stroke="#000" stroke-width="1.9"/>
<line x1="43.8" y1="130.20" x2="50.1" y2="130.20" stroke="#000" stroke-width="1.9"/>
<line x1="43.8" y1="89.09" x2="50.1" y2="89.09" stroke="#000" stroke-width="1.9"/>
<line x1="43.8" y1="47.99" x2="50.1" y2="47.99" stroke="#000" stroke-width="1.9"/>
<line x1="43.8" y1="6.88" x2="50.1" y2="6.88" stroke="#000" stroke-width="1.9"/>
<line x1="489.4" y1="6.0" x2="489.4" y2="315.8" stroke="#000" stroke-width="2.1"/>
<line x1="489.4" y1="300.70" x2="501.4" y2="300.70" stroke="#000" stroke-width="1.9"/>
<text x="508.4" y="304.10" font-size="14" font-weight="bold">0</text>
<line x1="489.4" y1="271.59" x2="495.4" y2="271.59" stroke="#000" stroke-width="1.9"/>
<line x1="489.4" y1="242.48" x2="501.4" y2="242.48" stroke="#000" stroke-width="1.9"/>
<text x="508.4" y="245.88" font-size="14" font-weight="bold">2</text>
<line x1="489.4" y1="213.37" x2="495.4" y2="213.37" stroke="#000" stroke-width="1.9"/>
<line x1="489.4" y1="184.26" x2="501.4" y2="184.26" stroke="#000" stroke-width="1.9"/>
<text x="508.4" y="187.66" font-size="14" font-weight="bold">4</text>
<line x1="489.4" y1="155.15" x2="495.4" y2="155.15" stroke="#000" stroke-width="1.9"/>
<line x1="489.4" y1="126.04" x2="501.4" y2="126.04" stroke="#000" stroke-width="1.9"/>
<text x="508.4" y="129.44" font-size="14" font-weight="bold">6</text>
<line x1="489.4" y1="96.93" x2="495.4" y2="96.93" stroke="#000" stroke-width="1.9"/>
<line x1="489.4" y1="67.82" x2="501.4" y2="67.82" stroke="#000" stroke-width="1.9"/>
<text x="508.4" y="71.22" font-size="14" font-weight="bold">8</text>
<line x1="489.4" y1="38.71" x2="495.4" y2="38.71" stroke="#000" stroke-width="1.9"/>
<line x1="489.4" y1="9.60" x2="501.4" y2="9.60" stroke="#000" stroke-width="1.9"/>
<text x="508.4" y="13.00" font-size="14" font-weight="bold">10</text>
<line x1="138.1" y1="327.4" x2="479.9" y2="327.4" stroke="#000" stroke-width="2.1"/>
<line x1="142.00" y1="327.4" x2="142.00" y2="339.0" stroke="#000" stroke-width="1.9"/>
<text x="142.00" y="355.8" font-size="13.6" font-weight="bold" text-anchor="middle">400</text>
<line x1="175.69" y1="327.4" x2="175.69" y2="333.4" stroke="#000" stroke-width="1.9"/>
<line x1="209.38" y1="327.4" x2="209.38" y2="339.0" stroke="#000" stroke-width="1.9"/>
<text x="209.38" y="355.8" font-size="13.6" font-weight="bold" text-anchor="middle">600</text>
<line x1="243.07" y1="327.4" x2="243.07" y2="333.4" stroke="#000" stroke-width="1.9"/>
<line x1="276.76" y1="327.4" x2="276.76" y2="339.0" stroke="#000" stroke-width="1.9"/>
<text x="276.76" y="355.8" font-size="13.6" font-weight="bold" text-anchor="middle">800</text>
<line x1="310.45" y1="327.4" x2="310.45" y2="333.4" stroke="#000" stroke-width="1.9"/>
<line x1="344.14" y1="327.4" x2="344.14" y2="339.0" stroke="#000" stroke-width="1.9"/>
<text x="344.14" y="355.8" font-size="13.6" font-weight="bold" text-anchor="middle">1000</text>
<line x1="377.83" y1="327.4" x2="377.83" y2="333.4" stroke="#000" stroke-width="1.9"/>
<line x1="411.52" y1="327.4" x2="411.52" y2="339.0" stroke="#000" stroke-width="1.9"/>
<text x="411.52" y="355.8" font-size="13.6" font-weight="bold" text-anchor="middle">1200</text>
<line x1="445.21" y1="327.4" x2="445.21" y2="333.4" stroke="#000" stroke-width="1.9"/>
<line x1="478.90" y1="327.4" x2="478.90" y2="339.0" stroke="#000" stroke-width="1.9"/>
<text x="478.90" y="355.8" font-size="13.6" font-weight="bold" text-anchor="middle">1400</text>
<text x="308" y="377.2" font-size="14.4" font-weight="bold" class="t" text-anchor="middle">irradiation temperature [K]</text>
<text transform="translate(13.1,135.4) rotate(-90) scale(1,1.1)" font-size="15.0" font-weight="bold" class="t" text-anchor="middle">hardness [GPa]</text>
<text transform="translate(538.6,171.9) rotate(-90) scale(1,1.1)" font-size="15.15" font-weight="bold" class="t" text-anchor="middle">defect density [10<tspan font-size="8" dy="-9">20</tspan><tspan dy="9"> m</tspan><tspan font-size="8" dy="-9">-3</tspan><tspan dy="9">]</tspan></text>
</svg></body></html>
